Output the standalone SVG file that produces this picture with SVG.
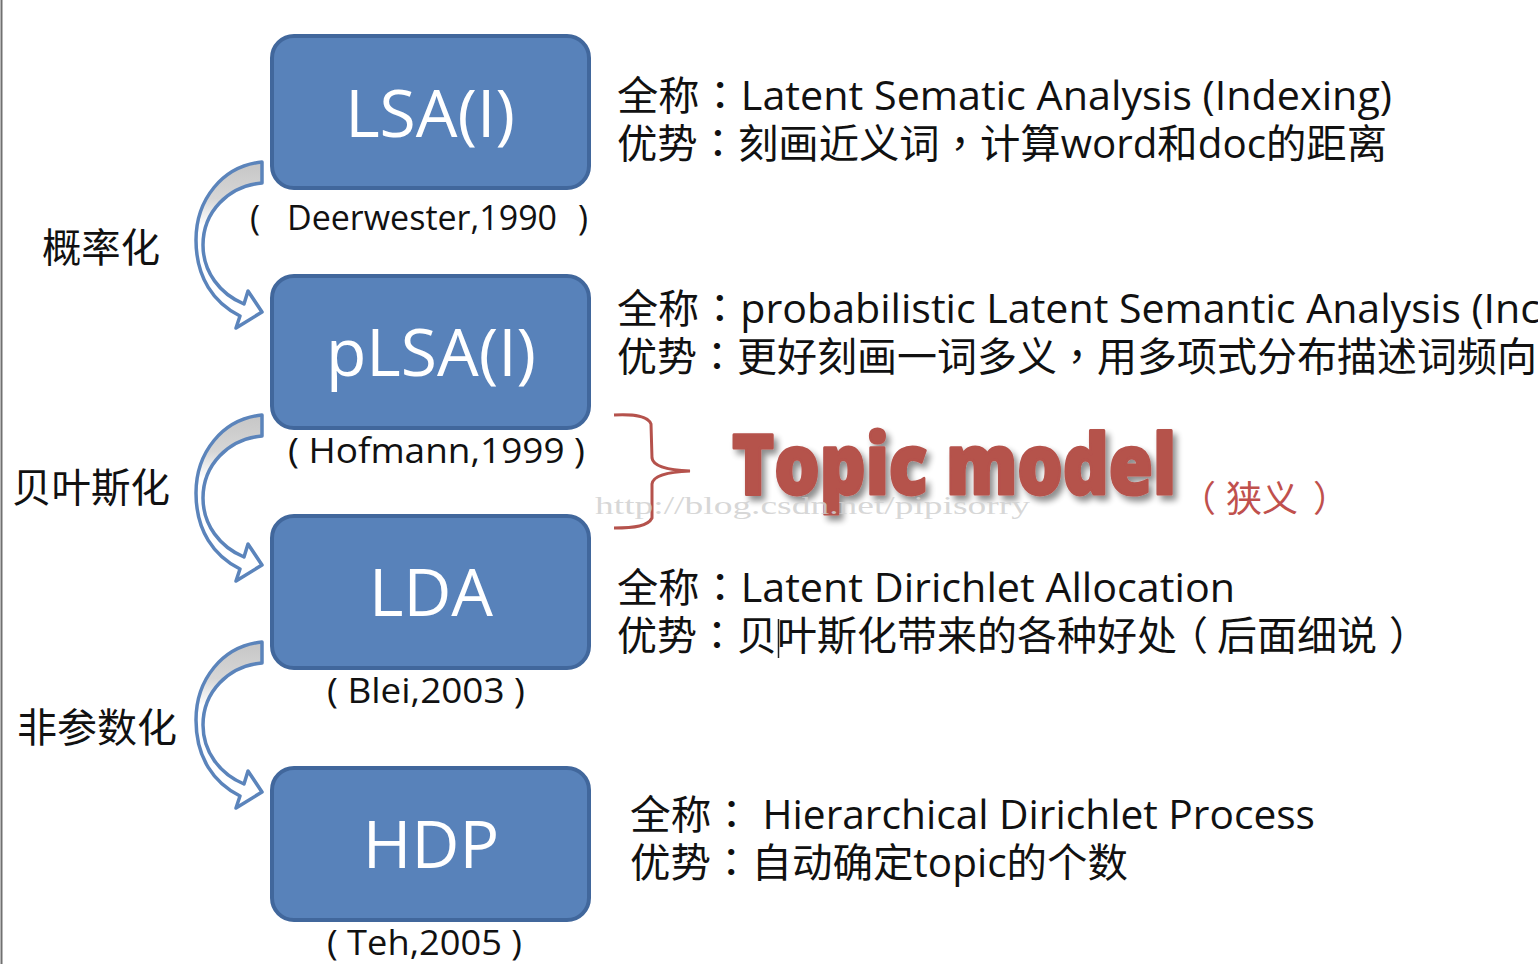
<svg xmlns="http://www.w3.org/2000/svg" width="1538" height="964" viewBox="0 0 1538 964">
<style>
.box{fill:#5882ba;stroke:#41679c;stroke-width:4}
.title{font-family:"Open Sans","Noto Sans",sans-serif;font-size:66px;fill:#ffffff;text-anchor:middle}
.cite{font-family:"Open Sans","Noto Sans CJK SC",sans-serif;font-size:34px;fill:#111111}
.desc{font-family:"Open Sans","Noto Sans CJK SC",sans-serif;font-size:40px;fill:#111111}
.p{font-family:"Noto Sans CJK TC",sans-serif}
.side{font-family:"Noto Sans CJK SC",sans-serif;font-size:40px;fill:#111111}
.arrow{fill:url(#tailGrad);stroke:#5b84bb;stroke-width:3.5;stroke-linejoin:round}
</style>
<defs>
<linearGradient id="tailGrad" x1="0" y1="0" x2="0" y2="1">
<stop offset="0" stop-color="#c6c6c6"/>
<stop offset="0.22" stop-color="#d6d6d6"/>
<stop offset="0.38" stop-color="#ffffff"/>
<stop offset="1" stop-color="#ffffff"/>
</linearGradient>
<filter id="shadow" x="-10%" y="-20%" width="120%" height="150%">
<feGaussianBlur in="SourceAlpha" stdDeviation="3"/>
<feOffset dx="4" dy="5" result="b"/>
<feComponentTransfer><feFuncA type="linear" slope="0.45"/></feComponentTransfer>
<feMerge><feMergeNode/><feMergeNode in="SourceGraphic"/></feMerge>
</filter>
<path id="curveArrow" d="M262,162 C222,166 196,200 196,240 C196,278 214,303 240,316 L236,328 L262,312 L248,291 L244,304 C220,294 203,272 203,245 C203,212 228,186 262,183 Z"/>
</defs>
<rect x="0" y="0" width="1538" height="964" fill="#ffffff"/>
<line x1="1.5" y1="0" x2="1.5" y2="964" stroke="#707070" stroke-width="2"/>

<g id="connectors">
<use href="#curveArrow" class="arrow"/>
<use href="#curveArrow" class="arrow" transform="translate(0,253)"/>
<use href="#curveArrow" class="arrow" transform="translate(0,480)"/>
</g>

<g id="side-labels">
<text class="side" x="42" y="262" textLength="118" lengthAdjust="spacingAndGlyphs">概率化</text>
<text class="side" x="12" y="502" textLength="158" lengthAdjust="spacingAndGlyphs">贝叶斯化</text>
<text class="side" x="17" y="742" textLength="160" lengthAdjust="spacingAndGlyphs">非参数化</text>
</g>

<g id="node-lsa">
<rect class="box" x="272" y="36" width="317" height="152" rx="22"/>
<text class="title" x="430" y="137">LSA(I)</text>
<text class="cite" y="230"><tspan x="250">(</tspan><tspan x="287">Deerwester,1990</tspan><tspan x="578">)</tspan></text>
<text class="desc" x="617" y="110" textLength="775" lengthAdjust="spacingAndGlyphs">全称<tspan class="p">：</tspan>Latent Sematic Analysis (Indexing)</text>
<text class="desc" x="617" y="158" textLength="770" lengthAdjust="spacingAndGlyphs">优势<tspan class="p">：</tspan>刻画近义词<tspan class="p">，</tspan>计算word和doc的距离</text>
</g>

<g id="node-plsa">
<rect class="box" x="272" y="276" width="317" height="152" rx="22"/>
<text class="title" x="431" y="376">pLSA(I)</text>
<text class="cite" x="288" y="463" textLength="297" lengthAdjust="spacingAndGlyphs">( Hofmann,1999 )</text>
<text class="desc" x="617" y="323" textLength="923" lengthAdjust="spacingAndGlyphs">全称<tspan class="p">：</tspan>probabilistic Latent Semantic Analysis (Inc</text>
<text class="desc" x="617" y="371" textLength="920" lengthAdjust="spacingAndGlyphs">优势<tspan class="p">：</tspan>更好刻画一词多义<tspan class="p">，</tspan>用多项式分布描述词频向</text>
</g>

<g id="node-lda">
<rect class="box" x="272" y="516" width="317" height="152" rx="22"/>
<text class="title" x="431" y="616">LDA</text>
<text class="cite" x="327" y="703" textLength="198" lengthAdjust="spacingAndGlyphs">( Blei,2003 )</text>
<text class="desc" x="617" y="602" textLength="618" lengthAdjust="spacingAndGlyphs">全称<tspan class="p">：</tspan>Latent Dirichlet Allocation</text>
<text class="desc" y="650"><tspan x="617">优势</tspan><tspan class="p">：</tspan>贝叶斯化带来的各种好处<tspan x="1168">（</tspan><tspan x="1217">后面细说</tspan><tspan x="1389">）</tspan></text>
<line x1="778.5" y1="619" x2="778.5" y2="658" stroke="#222222" stroke-width="1.5"/>
</g>

<g id="node-hdp">
<rect class="box" x="272" y="768" width="317" height="152" rx="22"/>
<text class="title" x="431" y="868">HDP</text>
<text class="cite" x="327" y="955" textLength="195" lengthAdjust="spacingAndGlyphs">( Teh,2005 )</text>
<text class="desc" x="630" y="829" textLength="685" lengthAdjust="spacingAndGlyphs">全称<tspan class="p">：</tspan> Hierarchical Dirichlet Process</text>
<text class="desc" x="630" y="877" textLength="498" lengthAdjust="spacingAndGlyphs">优势<tspan class="p">：</tspan>自动确定topic的个数</text>
</g>

<g id="topic-model">
<path d="M614,415 C635,414 648,416 651,424 L652,458 C653,466 665,470 690,471 C665,472 653,476 652,484 L652,518 C648,526 635,528 614,528" fill="none" stroke="#b5524c" stroke-width="3"/>
<text x="732" y="494" font-family="Open Sans, Lato, sans-serif" font-weight="800" font-size="84" fill="#b5524c" stroke="#b5524c" stroke-width="3" stroke-linejoin="round" textLength="444" lengthAdjust="spacingAndGlyphs" filter="url(#shadow)">Topic model</text>
<text y="512" font-family="Noto Sans CJK SC, sans-serif" font-size="36" fill="#c0504d"><tspan x="1180">（</tspan><tspan x="1226">狭义</tspan><tspan x="1313">）</tspan></text>
</g>

<text x="595" y="514" font-family="Liberation Serif, serif" font-size="26" fill="#d0d0d0" fill-opacity="0.85" textLength="435" lengthAdjust="spacingAndGlyphs">http://blog.csdn.net/pipisorry</text>
</svg>
